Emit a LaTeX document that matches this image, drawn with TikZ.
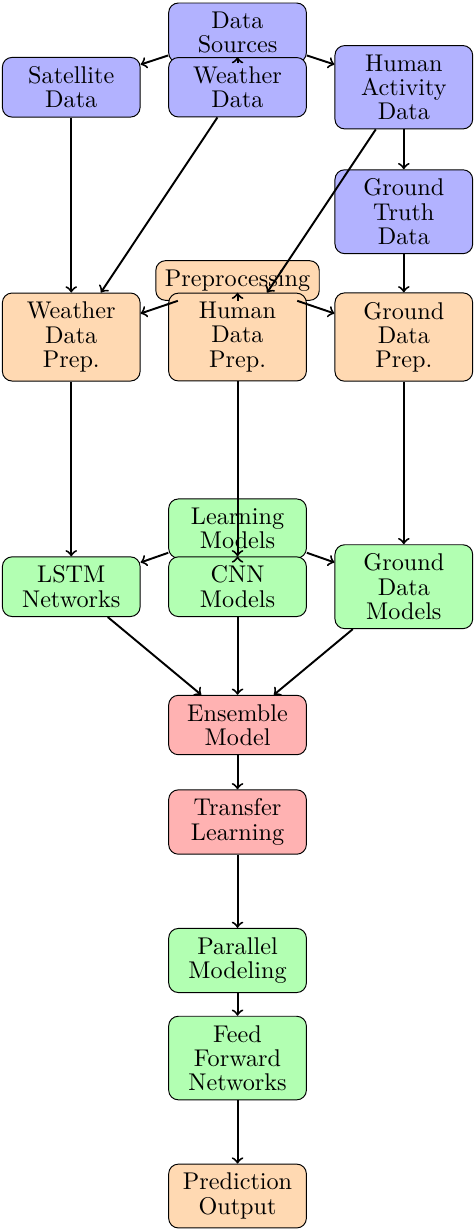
\documentclass[tikz,border=0pt]{standalone}
\usepackage{tikz}
\usetikzlibrary{arrows}

\begin{document}
\begin{tikzpicture}[
    every node/.style={draw, rounded corners, align=center, inner sep=3.75pt,
      font=\fontsize{10pt}{10pt}\selectfont},
    block/.style={text width=1.6cm, minimum width=2cm},
    source/.style={block, fill=blue!30},
    prepro/.style={block, fill=orange!30},
    model/.style={block, fill=green!30},
    merge/.style={block, fill=red!30},
    flow/.style={->, thick}]
  \useasboundingbox (0,0) rectangle (6.884,-17.879);
  % Data sources:
  \node[source] (sources) at (3.45,-0.475) {Data Sources};
  \node[source] (satellite) at (1.035,-1.267) {Satellite Data};
  \node[source] (weather) at (3.45,-1.267) {Weather Data};
  \node[source] (human) at (5.865,-1.267) {Human Activity Data};
  \node[source] (truth) at (5.865,-3.075) {Ground Truth Data};
  % Preprocessing:
  \node[fill=orange!30] (prep) at (3.45,-4.074) {Preprocessing};
  \node[prepro] (weatherprep) at (1.035,-4.895) {Weather Data Prep.};
  \node[prepro] (humanprep) at (3.45,-4.895) {Human Data Prep.};
  \node[prepro] (groundprep) at (5.865,-4.895) {Ground Data Prep.};
  % Learning models:
  \node[model] (learning) at (3.45,-7.676) {Learning Models};
  \node[model] (lstm) at (1.035,-8.521) {LSTM Networks};
  \node[model] (cnn) at (3.45,-8.521) {CNN Models};
  \node[model] (groundmodels) at (5.865,-8.521) {Ground Data Models};
  % Combination and output:
  \node[merge] (ensemble) at (3.45,-10.530) {Ensemble Model};
  \node[merge] (transfer) at (3.45,-11.939) {Transfer Learning};
  \node[model] (parallel) at (3.45,-13.950) {Parallel Modeling};
  \node[model] (feedforward) at (3.45,-15.367) {Feed Forward Networks};
  \node[prepro] (output) at (3.45,-17.371) {Prediction Output};

  % Connections:
  \draw[flow] (sources) -- (satellite);
  \draw[flow] (sources) -- (weather);
  \draw[flow] (sources) -- (human);
  \draw[flow] (satellite) -- (weatherprep);
  \draw[flow] (weather) -- (weatherprep);
  \draw[flow] (human) -- (humanprep);
  \draw[flow] (human) -- (truth);
  \draw[flow] (truth) -- (groundprep);
  \draw[flow] (prep) -- (weatherprep);
  \draw[flow] (prep) -- (humanprep);
  \draw[flow] (prep) -- (groundprep);
  \draw[flow] (weatherprep) -- (lstm);
  \draw[flow] (humanprep) -- (cnn);
  \draw[flow] (groundprep) -- (groundmodels);
  \draw[flow] (learning) -- (lstm);
  \draw[flow] (learning) -- (cnn);
  \draw[flow] (learning) -- (groundmodels);
  \draw[flow] (lstm) -- (ensemble);
  \draw[flow] (cnn) -- (ensemble);
  \draw[flow] (groundmodels) -- (ensemble);
  \draw[flow] (ensemble) -- (transfer);
  \draw[flow] (transfer) -- (parallel);
  \draw[flow] (parallel) -- (feedforward);
  \draw[flow] (feedforward) -- (output);
\end{tikzpicture}
\end{document}
